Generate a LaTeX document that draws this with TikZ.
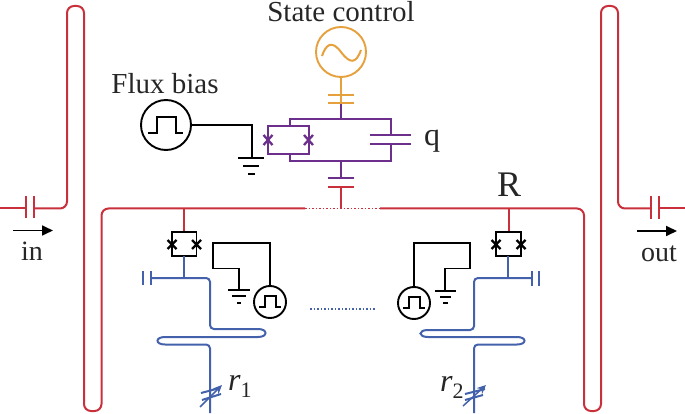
\documentclass[tikz,border=0pt]{standalone}
\usepackage{fontspec}
\setmainfont{Liberation Serif}
\usetikzlibrary{arrows.meta}
\definecolor{linered}{RGB}{200,48,60}
\definecolor{lineblue}{RGB}{68,98,172}
\definecolor{linepurple}{RGB}{108,48,140}
\definecolor{lineorange}{RGB}{230,160,60}
\tikzset{
  redwire/.style={draw=linered,line width=2pt},
  bluewire/.style={draw=lineblue,line width=2pt},
  purplewire/.style={draw=linepurple,line width=2pt},
  orangewire/.style={draw=lineorange,line width=2pt},
  blackwire/.style={draw=black,line width=1.9pt},
  source/.style={circle,draw=black,line width=1.9pt,minimum size=#1,inner sep=0pt},
  label/.style={text=black!85,inner sep=0pt,font=\fontsize{29}{30}\selectfont},
}
\begin{document}
\begin{tikzpicture}[x=1pt,y=-1pt]
\useasboundingbox (0,0) rectangle (685,414);

% Sources
\node[source=50pt,draw=lineorange] (statesrc) at (341,52) {};
\node[source=50pt] (fluxsrc) at (166,125) {};
\node[source=32pt] (pulseL) at (270,302) {};
\node[source=32pt] (pulseR) at (414,303) {};

% Labels
\node[label] (statelabel) at (341,12) {State control};
\node[label] (fluxlabel) at (165,84) {Flux bias};
\node[label,font=\fontsize{32}{33}\selectfont] (qlabel) at (432,141) {q};
\node[label,font=\fontsize{36}{37}\selectfont] (rlabel) at (509,185) {R};
\node[label,font=\fontsize{28}{29}\selectfont] (inlabel) at (32,251) {in};
\node[label,font=\fontsize{28}{29}\selectfont] (outlabel) at (659,253.5) {out};
\node[label,font=\fontsize{32}{33}\selectfont\itshape,anchor=base west] (r1label) at (228,390) {r\raisebox{-7pt}{\fontsize{22}{22}\upshape 1}};
\node[label,font=\fontsize{32}{33}\selectfont\itshape,anchor=base west] (r2label) at (440,391) {r\raisebox{-7pt}{\fontsize{22}{22}\upshape 2}};

% Feed line
\draw[redwire] (0,208.5) -- (26,208.5);
\draw[redwire] (26,196) -- (26,218);
\draw[redwire] (34,196) -- (34,218);
\draw[redwire,rounded corners=7pt] (34,208.5) -- (67,208.5) -- (67,6) -- (84,6) -- (84,411) -- (101.5,411) -- (101.5,208.5) -- (305,208.5);
\draw[redwire,line width=1.5pt,dotted] (305,208.5) -- (380,208.5);
\draw[redwire,rounded corners=7pt] (380,208.5) -- (584,208.5) -- (584,411) -- (601,411) -- (601,6) -- (618,6) -- (618,208.5) -- (651,208.5);
\draw[redwire] (651,196) -- (651,219);
\draw[redwire] (658.5,196) -- (658.5,219);
\draw[redwire] (658.5,208.5) -- (685,208.5);

% in and out arrows
\draw[-{Triangle[length=11pt,width=10pt]},line width=1.7pt] (13,230.5) -- (53,230.5);
\draw[-{Triangle[length=11pt,width=10pt]},line width=1.7pt] (637,231) -- (677,231);

% State control
\draw[orangewire] (322,56) .. controls (326,44) and (332,40) .. (341,52) .. controls (350,64) and (356,64) .. (361,50);
\draw[orangewire] (statesrc.south) -- (341,103);
\draw[orangewire] (328,95) -- (354,95);
\draw[orangewire] (328,103) -- (354,103);

% Qubit
\draw[purplewire] (341,104) -- (341,119);
\draw[purplewire] (290,126) -- (290,119) -- (391,119) -- (391,135.5);
\draw[purplewire] (370,135.5) -- (411,135.5);
\draw[purplewire] (370,144) -- (411,144);
\draw[purplewire] (391,144) -- (391,161) -- (290,161) -- (290,154);
\draw[purplewire] (268,126) rectangle (309,154);
\draw[purplewire] (341,161) -- (341,178);
\draw[purplewire] (328,178) -- (354,178);
\draw[redwire] (328,187) -- (354,187);
\draw[redwire] (341,187) -- (341,208.5);
\foreach \xc in {268,308.5}
  \draw[purplewire,line width=2.3pt] (\xc-4.5,135) -- (\xc+4.5,145) (\xc+4.5,135) -- (\xc-4.5,145);

% Flux bias
\draw[blackwire] (148,133) -- (157,133) -- (157,117) -- (176,117) -- (176,133) -- (183,133);
\draw[blackwire] (fluxsrc.east) -- (252,125) -- (252,158);
\draw[blackwire] (238,158) -- (264,158);
\draw[blackwire] (243,166) -- (259,166);
\draw[blackwire] (248,174) -- (255,174);

% Left readout
\draw[redwire] (184,208.5) -- (184,232);
\draw[blackwire] (172,232) rectangle (196.5,256);
\foreach \xc in {172,196.5}
  \draw[blackwire,line width=2.3pt] (\xc-4.5,240) -- (\xc+4.5,249) (\xc+4.5,240) -- (\xc-4.5,249);
\draw[bluewire] (184,256) -- (184,278);
\draw[bluewire] (143,271) -- (143,285);
\draw[bluewire] (151,271) -- (151,285);
\draw[bluewire,rounded corners=3.9pt] (151,278) -- (210,278) -- (210,329) -- (258,329);
\draw[bluewire] (258,329) .. controls (268,329) and (268,337) .. (258,337) -- (165,337) .. controls (155,337) and (155,344.5) .. (165,344.5);
\draw[bluewire,rounded corners=3.9pt] (165,344.5) -- (210,344.5) -- (210,413);
\draw[bluewire] (201,393) -- (220,388);
\draw[bluewire] (202,400) -- (221,394);
\draw[bluewire,-{Stealth[length=9pt,width=8pt,open]},line width=1.5pt] (200,407) -- (222,385);
\draw[blackwire] (pulseL.north) -- (270,243) -- (213,243) -- (213,268.5) -- (239,268.5) -- (239,290);
\draw[blackwire] (228,290) -- (250,290);
\draw[blackwire] (232,296) -- (246,296);
\draw[blackwire] (237,303) -- (241,303);
\draw[blackwire] (259,307) -- (265,307) -- (265,296) -- (276,296) -- (276,307) -- (281,307);

% Dots
\draw[lineblue,line width=1.5pt,dotted] (310,309) -- (375,309);

% Right readout
\draw[redwire] (509,208.5) -- (509,232);
\draw[blackwire] (496,232) rectangle (521,256);
\foreach \xc in {496,521}
  \draw[blackwire,line width=2.3pt] (\xc-4.5,240) -- (\xc+4.5,249) (\xc+4.5,240) -- (\xc-4.5,249);
\draw[bluewire] (508,256) -- (508,278);
\draw[bluewire,rounded corners=3.9pt] (532,278) -- (474,278) -- (474,330) -- (428,330);
\draw[bluewire] (428,330) .. controls (418,330) and (418,337) .. (428,337) -- (517,337) .. controls (527,337) and (527,344.5) .. (517,344.5);
\draw[bluewire,rounded corners=3.9pt] (517,344.5) -- (474,344.5) -- (474,413);
\draw[bluewire] (532,271) -- (532,286);
\draw[bluewire] (539,271) -- (539,286);
\draw[bluewire] (465,394) -- (485,389);
\draw[bluewire] (465,400) -- (483,395);
\draw[bluewire,-{Stealth[length=9pt,width=8pt,open]},line width=1.5pt] (463,406) -- (486,385);
\draw[blackwire] (pulseR.north) -- (414,243) -- (470,243) -- (470,268.5) -- (445,268.5) -- (445,291);
\draw[blackwire] (435,291) -- (456,291);
\draw[blackwire] (440,297) -- (451,297);
\draw[blackwire] (443,303) -- (448,303);
\draw[blackwire] (403,308) -- (409,308) -- (409,297) -- (420,297) -- (420,308) -- (425,308);
\end{tikzpicture}
\end{document}
